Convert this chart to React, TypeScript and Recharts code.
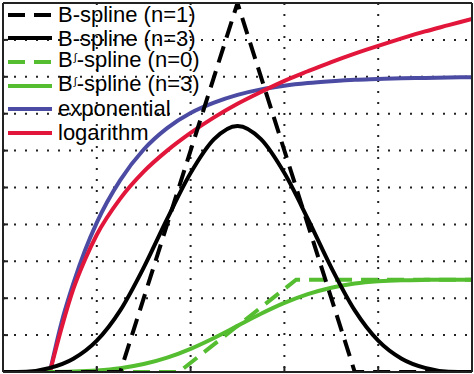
import React from 'react';
import { LineChart, Line, XAxis, YAxis, CartesianGrid, Legend } from 'recharts';

// shared x grid for the cubic curves
const xs = [0, 0.25, 0.5, 0.75, 1, 1.25, 1.5, 1.75, 2, 2.25, 2.5, 2.75, 3, 3.25, 3.5, 3.75, 4, 4.25, 4.5, 4.75, 5];
const bspline3 = [0, 0.001, 0.011, 0.036, 0.085, 0.167, 0.283, 0.415, 0.539, 0.631, 0.667, 0.631, 0.539, 0.415, 0.283, 0.167, 0.085, 0.036, 0.011, 0.001, 0];
const bprime3 = [0, 0, 0.0003, 0.0014, 0.0043, 0.0104, 0.0215, 0.039, 0.0629, 0.0923, 0.125, 0.1577, 0.1871, 0.211, 0.2285, 0.2396, 0.2457, 0.2487, 0.2497, 0.25, 0.25];

// piecewise linear ones
const bspline1X = [0, 1.25, 2.5, 3.75, 5];
const bspline1 = [0, 0, 1, 0, 0];
const bprime0X = [0, 1.875, 3.125, 5];
const bprime0 = [0, 0, 0.25, 0.25];

// exponential / logarithm start at 0.5
const curveX = [0.5, 0.625, 0.75, 0.875, 1, 1.25, 1.5, 1.75, 2, 2.25, 2.5, 2.75, 3, 3.25, 3.5, 3.75, 4, 4.25, 4.5, 4.75, 5];
const expo = [0, 0.135, 0.24, 0.33, 0.405, 0.52, 0.603, 0.661, 0.702, 0.73, 0.751, 0.766, 0.776, 0.783, 0.788, 0.792, 0.794, 0.796, 0.797, 0.798, 0.799];
const logar = [0, 0.12, 0.225, 0.305, 0.372, 0.47, 0.543, 0.6, 0.648, 0.69, 0.727, 0.759, 0.789, 0.815, 0.84, 0.863, 0.884, 0.904, 0.923, 0.94, 0.957];

const xTicks = [0, 1, 2, 3, 4, 5];
const yTicks = [0, 0.1, 0.2, 0.3, 0.4, 0.5, 0.6, 0.7, 0.8, 0.9, 1];

const BLUE = '#4b4ba3';
const RED = '#e2163a';
const GREEN = '#55bd30';

const toPoints = (x: number[], y: number[]) => x.map((v, i) => ({ x: v, y: y[i] }));

// no tick labels, only the tick marks
const NoLabel = () => <g />;

const legendItems = [
  { label: 'B-spline (n=1)', color: '#000', dash: '17 9', prime: false },
  { label: 'B-spline (n=3)', color: '#000', dash: undefined, prime: false },
  { label: '-spline (n=0)', color: GREEN, dash: '17 9', prime: true },
  { label: '-spline (n=3)', color: GREEN, dash: undefined, prime: true },
  { label: 'exponential', color: BLUE, dash: undefined, prime: false },
  { label: 'logarithm', color: RED, dash: undefined, prime: false },
];

const renderLegend = () => (
  <div style={{ fontFamily: 'Liberation Sans, Arial, sans-serif', fontSize: 22, lineHeight: '23.6px', color: '#000' }}>
    {legendItems.map((it) => (
      <div key={it.label + it.color} style={{ display: 'flex', alignItems: 'center', height: 23.6, whiteSpace: 'nowrap' }}>
        <svg width={44} height={8} style={{ marginRight: 6 }}>
          <line x1={0} y1={4} x2={44} y2={4} stroke={it.color} strokeWidth={4} strokeDasharray={it.dash} />
        </svg>
        <span>
          {it.prime ? (
            <>
              B<span style={{ fontSize: 11, position: 'relative', top: -6, marginLeft: 1 }}>∫</span>
            </>
          ) : null}
          {it.label}
        </span>
      </div>
    ))}
  </div>
);

export default function App() {
  return (
    <div style={{ position: 'absolute', left: 0, top: 0, background: '#fff' }}>
      <LineChart width={474} height={374} margin={{ top: 3, right: 2, bottom: 2, left: 3 }}>
        <CartesianGrid stroke="#222" strokeWidth={2} strokeDasharray="2 9" />
        <XAxis type="number" dataKey="x" domain={[0, 5]} ticks={xTicks} allowDataOverflow height={1} mirror tick={NoLabel} tickSize={5} stroke="#222" strokeWidth={2} />
        <XAxis xAxisId="top" orientation="top" type="number" dataKey="x" domain={[0, 5]} ticks={xTicks} height={1} mirror tick={NoLabel} tickSize={5} stroke="#222" strokeWidth={2} />
        <YAxis type="number" domain={[0, 1]} ticks={yTicks} allowDataOverflow width={1} mirror tick={NoLabel} tickSize={5} stroke="#222" strokeWidth={2} />
        <YAxis yAxisId="right" orientation="right" type="number" domain={[0, 1]} ticks={yTicks} width={1} mirror tick={NoLabel} tickSize={5} stroke="#222" strokeWidth={2} />
        <Legend
          content={renderLegend}
          layout="vertical"
          align="center"
          verticalAlign="middle"
          wrapperStyle={{ left: 8, top: 3, width: 'auto' }}
        />
        <Line data={toPoints(curveX, expo)} dataKey="y" name="exponential" type="monotone" stroke={BLUE} strokeWidth={4} dot={false} isAnimationActive={false} />
        <Line data={toPoints(curveX, logar)} dataKey="y" name="logarithm" type="monotone" stroke={RED} strokeWidth={4} dot={false} isAnimationActive={false} />
        <Line data={toPoints(bprime0X, bprime0)} dataKey="y" name="B'-spline (n=0)" type="linear" stroke={GREEN} strokeWidth={4} strokeDasharray="17 9" dot={false} isAnimationActive={false} />
        <Line data={toPoints(xs, bprime3)} dataKey="y" name="B'-spline (n=3)" type="monotone" stroke={GREEN} strokeWidth={4} dot={false} isAnimationActive={false} />
        <Line data={toPoints(xs, bspline3)} dataKey="y" name="B-spline (n=3)" type="monotone" stroke="#000" strokeWidth={4} dot={false} isAnimationActive={false} />
        <Line data={toPoints(bspline1X, bspline1)} dataKey="y" name="B-spline (n=1)" type="linear" stroke="#000" strokeWidth={4} strokeDasharray="17 9" dot={false} isAnimationActive={false} />
      </LineChart>
    </div>
  );
}
